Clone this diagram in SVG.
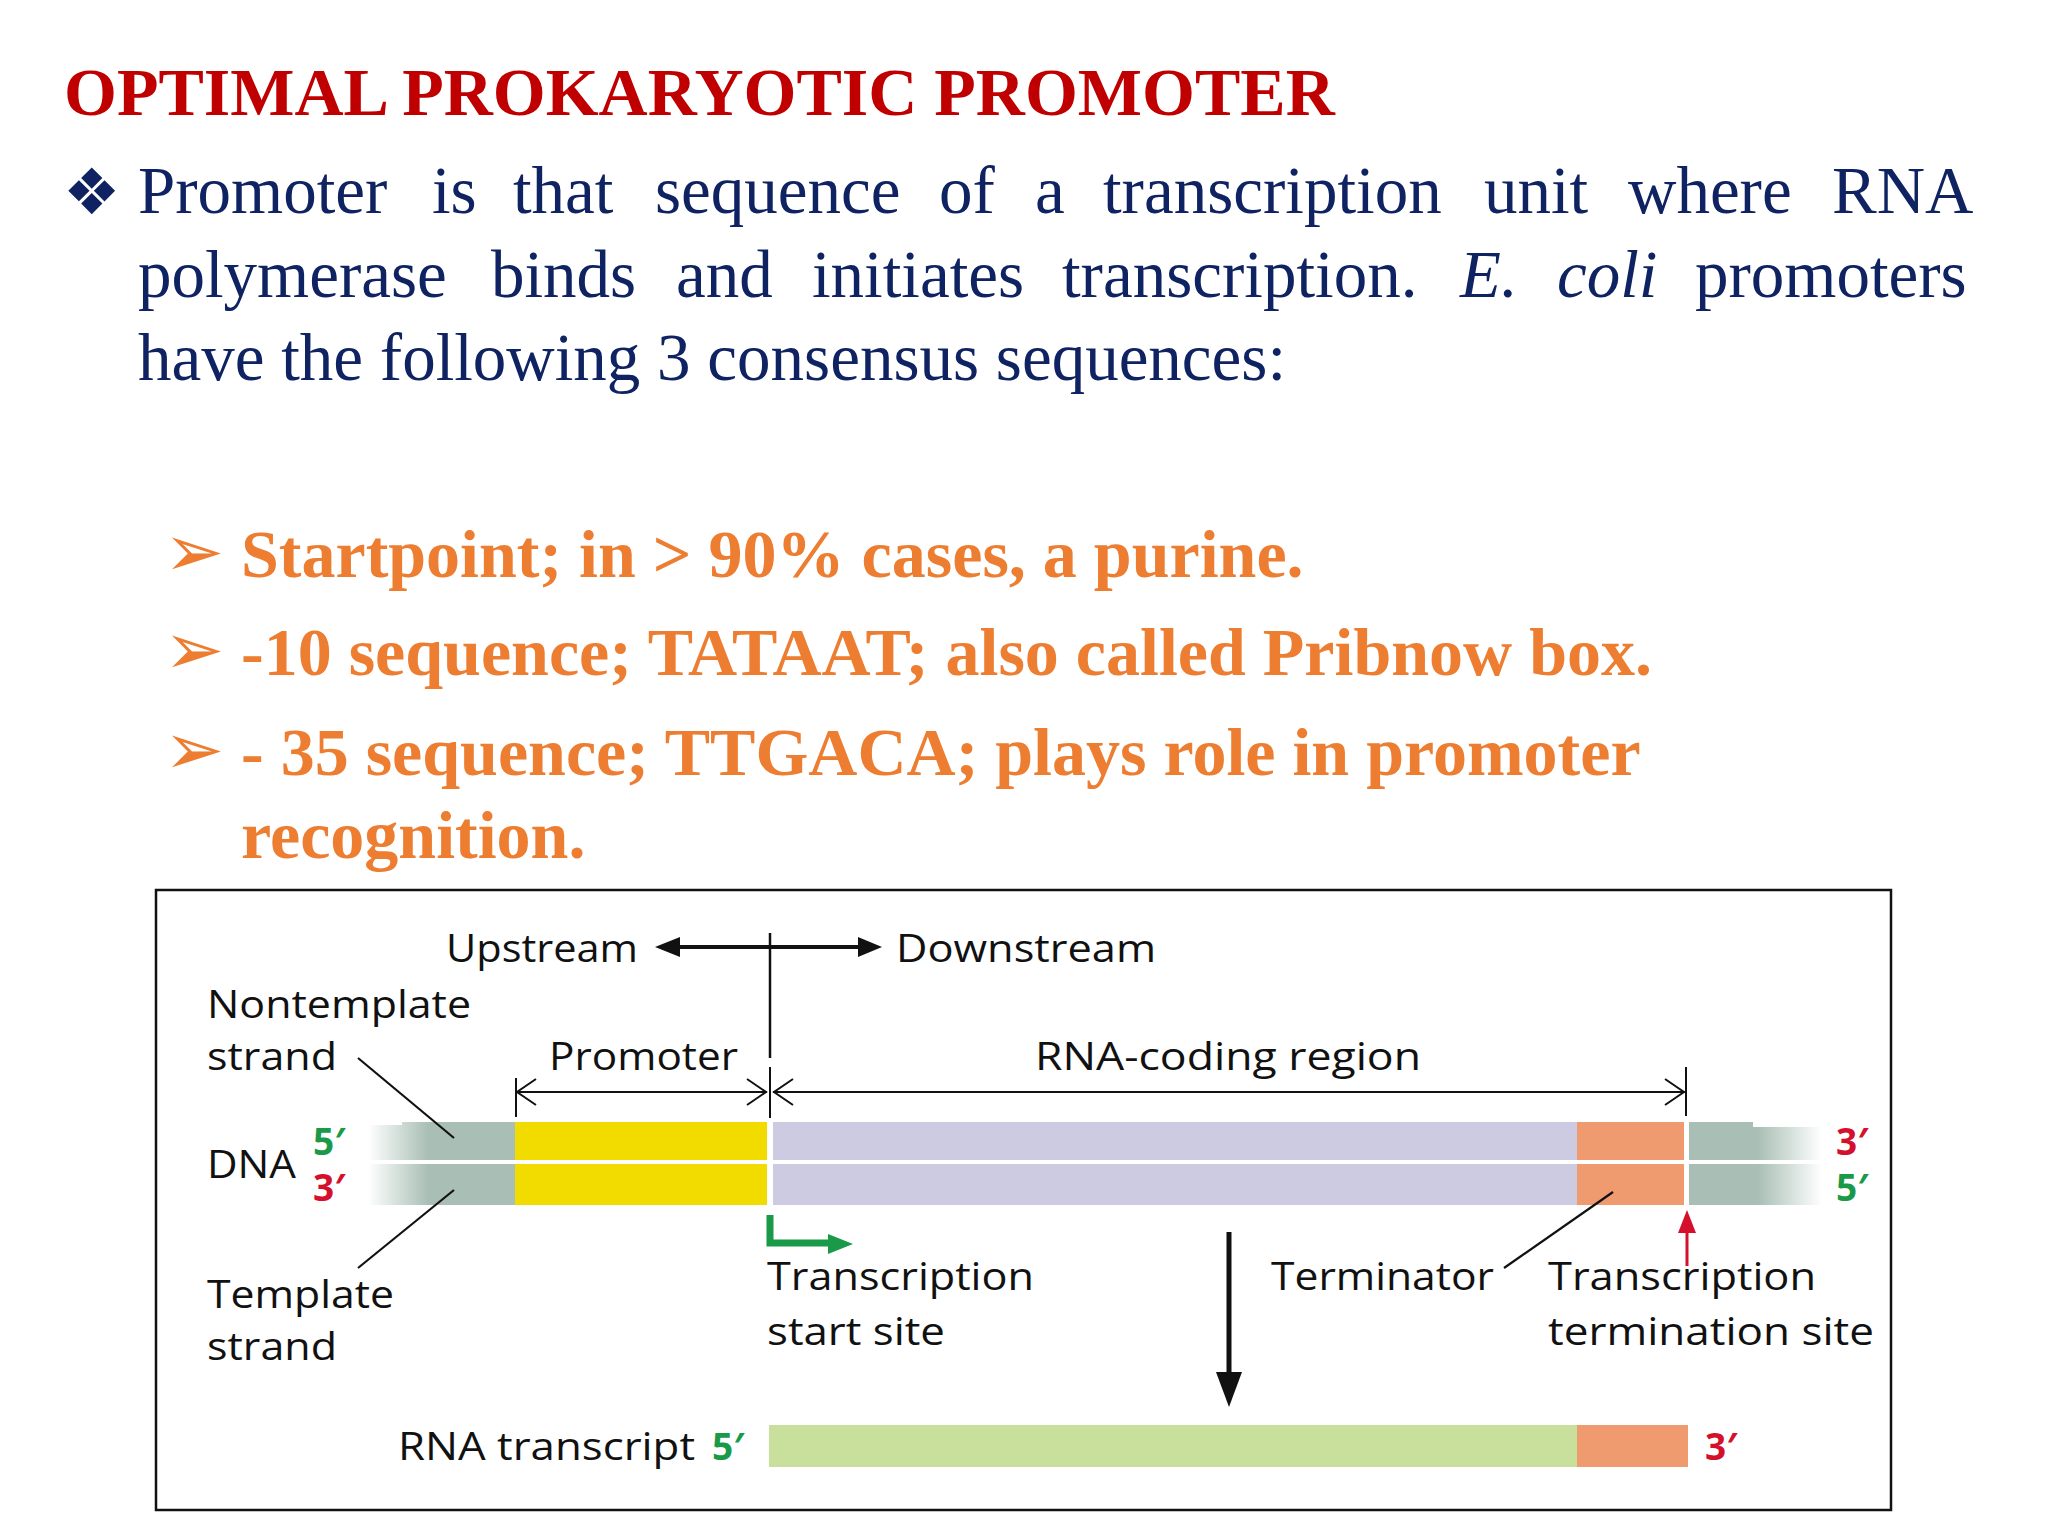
<svg xmlns="http://www.w3.org/2000/svg" width="2048" height="1536" viewBox="0 0 2048 1536">
<style>
.title{font-family:"Liberation Serif","Times New Roman",serif;font-weight:bold;font-size:68px;fill:#c00000}
.body{font-family:"Liberation Serif","Times New Roman",serif;font-size:67px;fill:#0f2262}
.or{font-family:"Liberation Serif","Times New Roman",serif;font-weight:bold;font-size:68px;fill:#ed7d31}
.bul{font-family:"DejaVu Sans",sans-serif;font-size:72px;fill:#ed7d31}
.lbl{font-family:"Open Sans","Noto Sans","DejaVu Sans",sans-serif;font-size:39px;fill:#111}
.g{font-family:"Open Sans","Noto Sans",sans-serif;font-weight:bold;font-size:37px;fill:#1a9a48}
.r{font-family:"Open Sans","Noto Sans",sans-serif;font-weight:bold;font-size:37px;fill:#d5102c}
.thin{stroke:#111;stroke-width:2.2;fill:none}
.dim{stroke:#111;stroke-width:2;fill:none}
</style>
<defs>
<linearGradient id="fadeL" gradientUnits="userSpaceOnUse" x1="368" y1="0" x2="428" y2="0">
<stop offset="0" stop-color="#a9bfb5" stop-opacity="0"/>
<stop offset="1" stop-color="#a9bfb5" stop-opacity="1"/>
</linearGradient>
<linearGradient id="fadeR" gradientUnits="userSpaceOnUse" x1="1758" y1="0" x2="1822" y2="0">
<stop offset="0" stop-color="#a9bfb5" stop-opacity="1"/>
<stop offset="1" stop-color="#a9bfb5" stop-opacity="0"/>
</linearGradient>
</defs>
<rect width="2048" height="1536" fill="#ffffff"/>

<g id="title"><text class="title" x="64" y="115">OPTIMAL PROKARYOTIC PROMOTER</text></g>

<g id="intro">
<text x="63" y="214" font-family="DejaVu Sans,sans-serif" font-size="64" fill="#0f2262">❖</text>
<text class="body" y="213"><tspan x="138">Promoter</tspan><tspan x="432">is</tspan><tspan x="513">that</tspan><tspan x="655">sequence</tspan><tspan x="939">of</tspan><tspan x="1035">a</tspan><tspan x="1103">transcription</tspan><tspan x="1484">unit</tspan><tspan x="1628">where</tspan><tspan x="1832">RNA</tspan></text>
<text class="body" y="297"><tspan x="138">polymerase</tspan><tspan x="491">binds</tspan><tspan x="676">and</tspan><tspan x="812">initiates</tspan><tspan x="1062">transcription.</tspan><tspan x="1460" font-style="italic">E.</tspan><tspan x="1557" font-style="italic">coli</tspan><tspan x="1695">promoters</tspan></text>
<text class="body" x="138" y="380">have the following 3 consensus sequences:</text>
</g>

<g id="points">
<text class="bul" x="164" y="576">➢</text>
<text class="or" x="241" y="577">Startpoint; in &gt; 90% cases, a purine.</text>
<text class="bul" x="164" y="674">➢</text>
<text class="or" x="241" y="675">-10 sequence; TATAAT; also called Pribnow box.</text>
<text class="bul" x="164" y="774">➢</text>
<text class="or" x="241" y="775">- 35 sequence; TTGACA; plays role in promoter</text>
<text class="or" x="241" y="858">recognition.</text>
</g>

<g id="figure">
<rect x="156" y="890" width="1735" height="620" fill="#ffffff" stroke="#111" stroke-width="2.5"/>

<g id="dna">
<path d="M368,1125 H402 V1122 H515 V1160 H368 Z" fill="url(#fadeL)"/>
<rect x="368" y="1164" width="147" height="41" fill="url(#fadeL)"/>
<rect x="515" y="1122" width="252" height="38" fill="#f2dc00"/>
<rect x="515" y="1164" width="252" height="41" fill="#f2dc00"/>
<rect x="773" y="1122" width="804" height="38" fill="#cccbe1"/>
<rect x="773" y="1164" width="804" height="41" fill="#cccbe1"/>
<rect x="1577" y="1122" width="107" height="38" fill="#ef9b6f"/>
<rect x="1577" y="1164" width="107" height="41" fill="#ef9b6f"/>
<path d="M1689,1122 H1753 V1127 H1822 V1160 H1689 Z" fill="url(#fadeR)"/>
<rect x="1689" y="1164" width="133" height="41" fill="url(#fadeR)"/>
</g>

<g id="rna">
<rect x="769" y="1425" width="808" height="42" fill="#c8e09b"/>
<rect x="1577" y="1425" width="111" height="42" fill="#ef9b6f"/>
</g>

<g id="labels">
<text class="lbl" x="446" y="962" textLength="192" lengthAdjust="spacingAndGlyphs">Upstream</text>
<text class="lbl" x="896" y="962" textLength="260" lengthAdjust="spacingAndGlyphs">Downstream</text>
<text class="lbl" x="207" y="1018" textLength="264" lengthAdjust="spacingAndGlyphs">Nontemplate</text>
<text class="lbl" x="207" y="1070" textLength="130" lengthAdjust="spacingAndGlyphs">strand</text>
<text class="lbl" x="549" y="1070" textLength="189" lengthAdjust="spacingAndGlyphs">Promoter</text>
<text class="lbl" x="1035" y="1070" textLength="386" lengthAdjust="spacingAndGlyphs">RNA-coding region</text>
<text class="lbl" x="207" y="1178" textLength="89" lengthAdjust="spacingAndGlyphs">DNA</text>
<text class="g" x="313" y="1155">5′</text>
<text class="r" x="313" y="1201">3′</text>
<text class="r" x="1836" y="1155">3′</text>
<text class="g" x="1836" y="1201">5′</text>
<text class="lbl" x="207" y="1308" textLength="187" lengthAdjust="spacingAndGlyphs">Template</text>
<text class="lbl" x="207" y="1360" textLength="130" lengthAdjust="spacingAndGlyphs">strand</text>
<text class="lbl" x="767" y="1290" textLength="267" lengthAdjust="spacingAndGlyphs">Transcription</text>
<text class="lbl" x="767" y="1345" textLength="178" lengthAdjust="spacingAndGlyphs">start site</text>
<text class="lbl" x="1271" y="1290" textLength="223" lengthAdjust="spacingAndGlyphs">Terminator</text>
<text class="lbl" x="1548" y="1290" textLength="268" lengthAdjust="spacingAndGlyphs">Transcription</text>
<text class="lbl" x="1548" y="1345" textLength="326" lengthAdjust="spacingAndGlyphs">termination site</text>
<text class="lbl" x="398" y="1460" textLength="297" lengthAdjust="spacingAndGlyphs">RNA transcript</text>
<text class="g" x="712" y="1460" font-size="40">5′</text>
<text class="r" x="1705" y="1460" font-size="40">3′</text>
</g>

<g id="connectors">
<line x1="680" y1="947" x2="858" y2="947" stroke="#111" stroke-width="4"/>
<path d="M655,947 L680,937 L680,957 Z" fill="#111"/>
<path d="M882,947 L858,937 L858,957 Z" fill="#111"/>
<line x1="770" y1="933" x2="770" y2="1058" stroke="#111" stroke-width="2.5"/>
<line x1="516" y1="1078" x2="516" y2="1117" class="dim"/>
<line x1="770" y1="1067" x2="770" y2="1118" class="dim"/>
<line x1="1686" y1="1067" x2="1686" y2="1116" class="dim"/>
<line x1="516" y1="1092" x2="767" y2="1092" class="dim"/>
<path d="M536,1079 L517,1092 L536,1105" class="dim"/>
<path d="M747,1079 L766,1092 L747,1105" class="dim"/>
<line x1="773" y1="1092" x2="1685" y2="1092" class="dim"/>
<path d="M793,1079 L774,1092 L793,1105" class="dim"/>
<path d="M1665,1079 L1684,1092 L1665,1105" class="dim"/>
<line x1="358" y1="1058" x2="454" y2="1138" class="thin"/>
<line x1="454" y1="1190" x2="358" y2="1268" class="thin"/>
<line x1="1504" y1="1268" x2="1613" y2="1192" class="thin"/>
<path d="M770,1215 V1243 H830" fill="none" stroke="#1a9a48" stroke-width="7"/>
<path d="M853,1244 L828,1234 L828,1254 Z" fill="#1a9a48"/>
<line x1="1687" y1="1266" x2="1687" y2="1228" stroke="#d5102c" stroke-width="3"/>
<path d="M1687,1210 L1678,1233 L1696,1233 Z" fill="#d5102c"/>
<line x1="1229" y1="1232" x2="1229" y2="1378" stroke="#111" stroke-width="5"/>
<path d="M1229,1407 L1216,1372 L1242,1372 Z" fill="#111"/>
</g>
</g>
</svg>
